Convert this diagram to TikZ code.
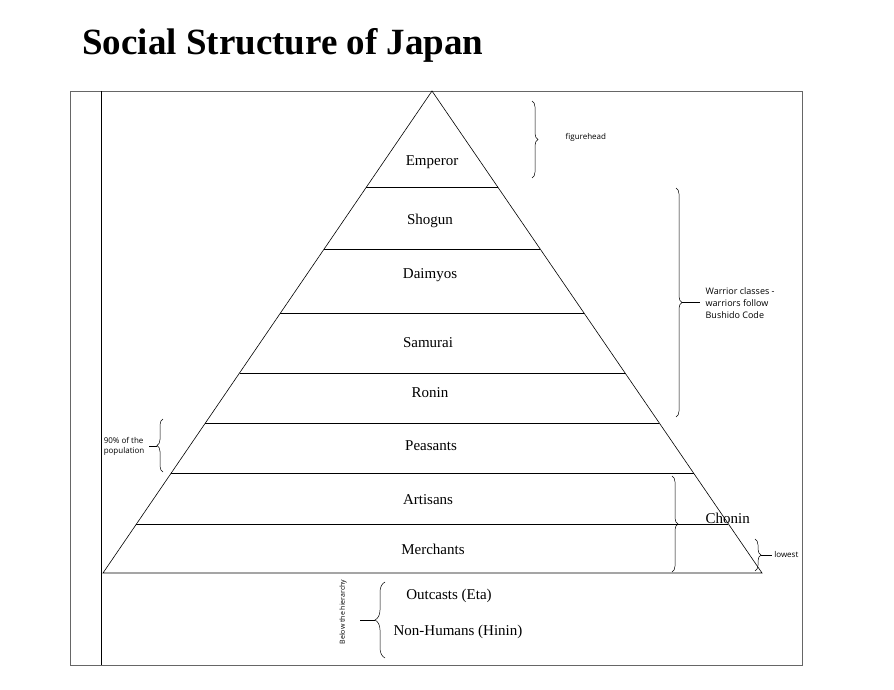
\documentclass[tikz,border=0pt]{standalone}
\usepackage{fontspec}
\setmainfont{Liberation Serif}
\newfontfamily\notefont{Open Sans}
\usetikzlibrary{positioning,calc,decorations.pathreplacing}

\begin{document}
\begin{tikzpicture}[
    x=1pt, y=-1pt,
    rank/.style={font=\fontsize{15}{17}\selectfont},
    note/.style={font=\notefont\fontsize{8}{10}\selectfont, align=left},
    brace/.style={decorate, decoration={brace, amplitude=6pt}, line width=0.5pt},
    line width=0.6pt
]
    \useasboundingbox (0,0) rectangle (894,690);
    % Title
    \node[font=\fontsize{37}{40}\selectfont\bfseries, anchor=west, inner sep=0pt] (title) at (82,45) {Social Structure of Japan};

    % Frame
    \draw[gray!80!black] (70,91) rectangle (802,665);
    \draw (101,91) -- (101,665);

    % Pyramid
    \coordinate (apex) at (432,91);
    \coordinate (bl) at (103,573);
    \coordinate (br) at (762,573);
    \draw (bl) -- (apex) -- (br) -- cycle;
    \foreach \y in {187,249,313,373,423,473,524} {
        \draw ($(apex)!{(\y-91)/482}!(bl)$) -- ($(apex)!{(\y-91)/482}!(br)$);
    }

    % Ranks
    \node[rank] (emperor) at (432,162) {Emperor};
    \node[rank] (shogun) at (430,221) {Shogun};
    \node[rank] (daimyos) at (430,275) {Daimyos};
    \node[rank] (samurai) at (428,343) {Samurai};
    \node[rank] (ronin) at (430,393) {Ronin};
    \node[rank] (peasants) at (431,446) {Peasants};
    \node[rank] (artisans) at (428,500) {Artisans};
    \node[rank] (merchants) at (433,549) {Merchants};
    \node[rank] (eta) at (449,596) {Outcasts (Eta)};
    \node[rank] (hinin) at (458,632) {Non-Humans (Hinin)};

    % Braces
    \draw[brace] (532,101) -- (532,178);
    \node[note, anchor=west] (figure) at (562,137) {figurehead};
    \draw[brace] (676,188) -- (676,417);
    \draw (682,302) -- (700,302);
    \node[note, anchor=west, font=\notefont\fontsize{9}{12}\selectfont] (warrior) at (702,303) {Warrior classes -\\warriors follow\\Bushido Code};
    \draw[brace] (163,472) -- (163,419);
    \draw (157,446) -- (149,446);
    \node[note, anchor=east] (ninety) at (148,446) {90\% of the\\population};
    \draw[brace] (672,476) -- (672,572);
    \draw (678,524) -- (692,524);
    \node[rank, anchor=west] (chonin) at (702,518) {Chonin};
    \draw[brace] (755,539) -- (755,571);
    \draw (761,555) -- (772,555);
    \node[note, anchor=west, inner sep=1pt] (lowest) at (773,554) {lowest};
    \draw[brace, decoration={amplitude=10pt}] (385,658) -- (385,582);
    \draw (375,620) -- (360,620);
    \node[note, rotate=90, font=\notefont\fontsize{7}{9}\selectfont] (below) at (343,612) {Below the hierarchy};
\end{tikzpicture}
\end{document}
